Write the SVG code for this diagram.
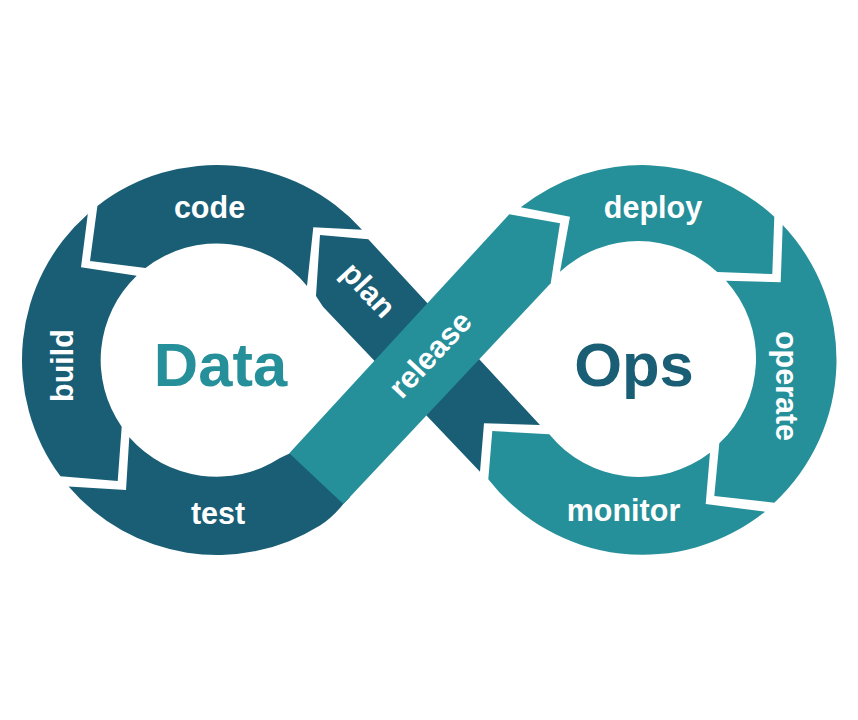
<svg xmlns="http://www.w3.org/2000/svg" width="858" height="720" viewBox="0 0 858 720">
<style>
.d{fill:#195E75}
.t{fill:#26909A}
text{font-family:"Liberation Sans",Arial,sans-serif;font-weight:700;text-anchor:middle}
.l{font-size:30.500px;fill:#fff}
.c{font-size:61.500px}
</style>
<rect width="858" height="720" fill="#fff"/>
<g id="node-code"><path class="d" d="M97.400 205.900A195 195 0 0 1 362 229.700L313.300 227.300L307 286A116.500 116.500 0 0 0 145.500 268L90 261Z"/><text class="l" x="209.500" y="218">code</text></g>
<g id="node-build"><path class="d" d="M87.800 213.900L81 267.300L136.700 275.700A116.500 116.500 0 0 0 121.700 426.700L117.700 481L60.500 476.300A195 195 0 0 1 87.800 213.900Z"/><text class="l" transform="translate(72.500 365.500) rotate(-90)">build</text></g>
<g id="node-test"><path class="d" d="M68.600 486.400L126 490L129.300 437.300A116.500 116.500 0 0 0 280 458L290 453.300L300 452L350 497L343.300 504Q333 517 320 525.600A195 195 0 0 1 68.600 486.400Z"/><text class="l" x="218" y="524">test</text></g>
<g id="node-plan"><path class="d" d="M320 235L368.300 239.300L540 425L484 423.300L480 471.700L323 306.700L316 296Z"/><text class="l" transform="translate(361 297) rotate(47)">plan</text></g>
<g id="node-release"><path class="t" d="M509.300 214.300L560 223.300L550.700 283.300L343.300 504L289.300 453.300Z"/><text class="l" transform="translate(437.700 361.500) rotate(-47)">release</text></g>
<g id="node-deploy"><path class="t" d="M520.700 207.300A195.500 195.500 0 0 1 774.300 216.700L772.300 274L717.300 272A116 116 0 0 0 560 271.700L570 216.700Z"/><text class="l" x="653" y="218">deploy</text></g>
<g id="node-operate"><path class="t" d="M782.700 225A195.500 195.500 0 0 1 774.300 502.700L714.300 496L719.300 443.300A116 116 0 0 0 726 280.700L780.700 282.300Z"/><text class="l" transform="translate(776 386) rotate(90)">operate</text></g>
<g id="node-monitor"><path class="t" d="M765 511.700A195.500 195.500 0 0 1 488.300 479.300L492.300 431L549.300 434.300A116 116 0 0 0 710 452.700L705.700 504Z"/><text class="l" x="623.500" y="520.500">monitor</text></g>
<g id="node-data"><text class="c" x="220.500" y="386" fill="#26909A">Data</text></g>
<g id="node-ops"><text class="c" x="634" y="386" fill="#195E75">Ops</text></g>
<g id="connectors"/>
</svg>
